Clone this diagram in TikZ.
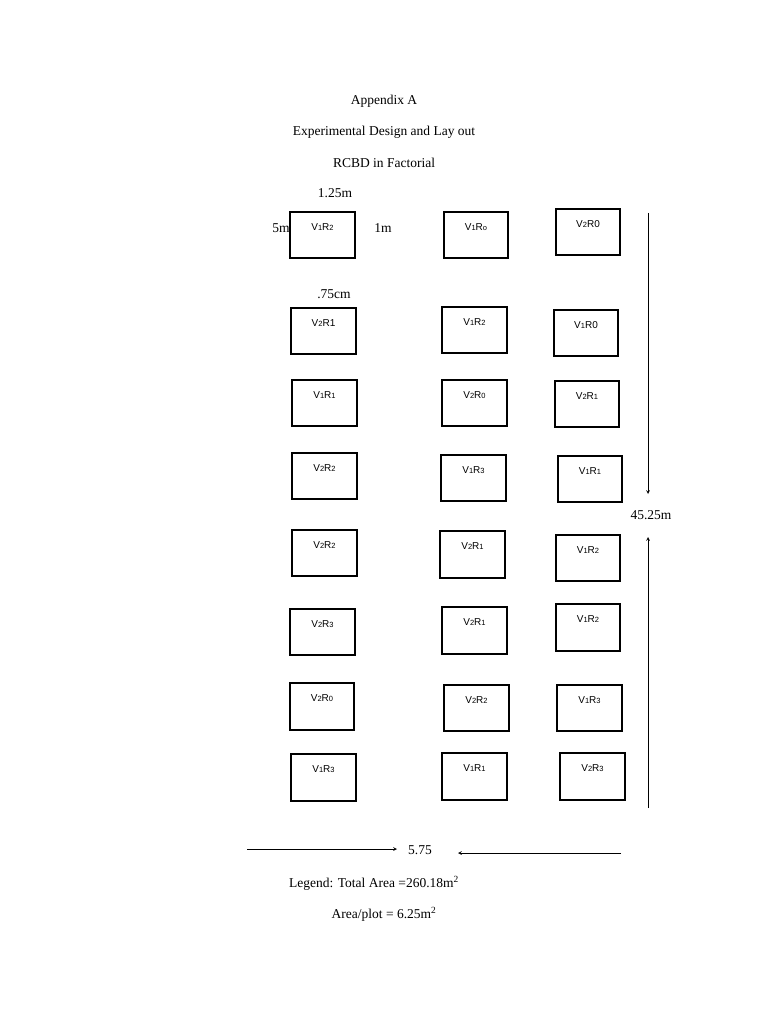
\documentclass[tikz,border=0pt]{standalone}
\usepackage{fontspec}
\setmainfont{Liberation Serif}
\newfontfamily\lbl{Liberation Sans}
\begin{document}
\begin{tikzpicture}[x=1pt,y=-1pt,
  plot/.style={draw,line width=1.8pt},
  lab/.style={font=\lbl\fontsize{10}{12}\selectfont},
  txt/.style={font=\fontsize{13.5}{16}\selectfont},
  arr/.style={->,line width=0.7pt,>=stealth}]
\useasboundingbox (0,0) rectangle (768,1024);
\newcommand\sm[1]{{\fontsize{7.5}{9}\selectfont #1}}
\foreach \n/\l/\t/\r/\b/\a/\c in {
 a/290/212/355/258/1/R\sm{2},
 b/444/212/508/258/1/R\sm{o},
 c/556/209/620/255/2/R0,
 d/291/308/356/354/2/R1,
 e/442/307/507/353/1/R\sm{2},
 f/554/310/618/356/1/R0,
 g/292/380/357/426/1/R\sm{1},
 h/442/380/507/426/2/R\sm{0},
 i/555/381/619/427/2/R\sm{1},
 j/292/453/357/499/2/R\sm{2},
 k/441/455/506/501/1/R\sm{3},
 l/558/456/622/502/1/R\sm{1},
 m/292/530/357/576/2/R\sm{2},
 n/440/531/505/578/2/R\sm{1},
 o/556/535/620/581/1/R\sm{2},
 p/290/609/355/655/2/R\sm{3},
 q/442/607/507/654/2/R\sm{1},
 r/556/604/620/651/1/R\sm{2},
 s/290/683/354/730/2/R\sm{0},
 t/444/685/509/731/2/R\sm{2},
 u/557/685/622/731/1/R\sm{3},
 v/291/754/356/801/1/R\sm{3},
 w/442/753/507/800/1/R\sm{1},
 x/560/753/625/800/2/R\sm{3}} {
  \draw[plot] (\l,\t) rectangle (\r,\b);
  \node[lab] (\n) at ({(\l+\r)/2},\t+15) {V\sm{\a}\c};
}
\node[txt] (t1) at (384,101) {Appendix A};
\node[txt] (t2) at (384,132) {Experimental Design and Lay out};
\node[txt] (t3) at (384,163) {RCBD in Factorial};
\node[txt] (d1) at (335,193) {1.25m};
\node[txt] (d2) at (281,228) {5m};
\node[txt] (d3) at (383,228) {1m};
\node[txt] (d4) at (334,294) {.75cm};
\node[txt] (d5) at (651,515) {45.25m};
\node[txt] (d6) at (420,850) {5.75};
\node[txt] (g1) at (374,883) {Legend: Total Area =260.18m\textsuperscript{2}};
\node[txt] (g2) at (384,914) {Area/plot = 6.25m\textsuperscript{2}};
\coordinate (v1) at (648,213); \coordinate (v2) at (648,494);
\coordinate (v3) at (648,808); \coordinate (v4) at (648,537);
\coordinate (h1) at (247,849); \coordinate (h2) at (397,849);
\coordinate (h3) at (621,853); \coordinate (h4) at (458,853);
\draw[arr] (v1) -- (v2);
\draw[arr] (v3) -- (v4);
\draw[arr] (h1) -- (h2);
\draw[arr] (h3) -- (h4);
\end{tikzpicture}
\end{document}
